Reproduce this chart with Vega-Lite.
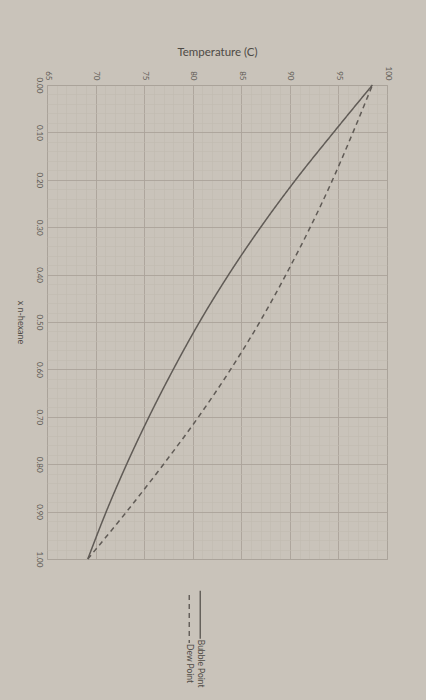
{
  "$schema": "https://vega.github.io/schema/vega-lite/v6.json",
  "width": 340,
  "height": 474,
  "autosize": {"type": "none"},
  "padding": {"left": 47, "top": 85, "right": 39, "bottom": 141},
  "background": "#c9c3ba",
  "config": {
    "font": "Lato",
    "view": {"stroke": "#aaa39a", "strokeWidth": 1},
    "axis": {"domain": false, "ticks": false, "labelFont": "Lato", "titleFont": "Lato", "labelColor": "#5e5a54", "titleColor": "#4e4a45", "labelFontSize": 8, "titleFontSize": 11.5, "titleFontWeight": "normal"}
  },
  "data": {"values": [
    {"x": 0.0, "T": 98.5, "series": "Bubble Point"},
    {"x": 0.1, "T": 94.5, "series": "Bubble Point"},
    {"x": 0.2, "T": 90.6, "series": "Bubble Point"},
    {"x": 0.3, "T": 87.0, "series": "Bubble Point"},
    {"x": 0.4, "T": 83.7, "series": "Bubble Point"},
    {"x": 0.5, "T": 80.7, "series": "Bubble Point"},
    {"x": 0.6, "T": 78.0, "series": "Bubble Point"},
    {"x": 0.7, "T": 75.5, "series": "Bubble Point"},
    {"x": 0.8, "T": 73.2, "series": "Bubble Point"},
    {"x": 0.9, "T": 71.1, "series": "Bubble Point"},
    {"x": 1.0, "T": 69.2, "series": "Bubble Point"},
    {"x": 0.0, "T": 98.5, "series": "Dew Point"},
    {"x": 0.1, "T": 96.5, "series": "Dew Point"},
    {"x": 0.2, "T": 94.4, "series": "Dew Point"},
    {"x": 0.3, "T": 92.1, "series": "Dew Point"},
    {"x": 0.4, "T": 89.6, "series": "Dew Point"},
    {"x": 0.5, "T": 86.9, "series": "Dew Point"},
    {"x": 0.6, "T": 83.9, "series": "Dew Point"},
    {"x": 0.7, "T": 80.6, "series": "Dew Point"},
    {"x": 0.8, "T": 77.0, "series": "Dew Point"},
    {"x": 0.9, "T": 73.2, "series": "Dew Point"},
    {"x": 1.0, "T": 69.2, "series": "Dew Point"}
  ]},
  "layer": [
    {
      "mark": {"type": "line", "opacity": 0},
      "encoding": {
        "x": {"field": "T", "type": "quantitative", "scale": {"domain": [65, 100], "nice": false, "zero": false},
          "axis": {"orient": "bottom", "title": null, "labels": false, "grid": true, "gridColor": "#c1bab0", "gridWidth": 0.6, "values": [66,67,68,69,71,72,73,74,76,77,78,79,81,82,83,84,86,87,88,89,91,92,93,94,96,97,98,99]}},
        "y": {"field": "x", "type": "quantitative", "scale": {"domain": [0, 1], "reverse": true, "nice": false, "zero": false},
          "axis": {"orient": "right", "title": null, "labels": false, "grid": true, "gridColor": "#c1bab0", "gridWidth": 0.6, "values": [0.02,0.04,0.06,0.08,0.12,0.14,0.16,0.18,0.22,0.24,0.26,0.28,0.32,0.34,0.36,0.38,0.42,0.44,0.46,0.48,0.52,0.54,0.56,0.58,0.62,0.64,0.66,0.68,0.72,0.74,0.76,0.78,0.82,0.84,0.86,0.88,0.92,0.94,0.96,0.98]}},
        "detail": {"field": "series"}
      }
    },
    {
      "mark": {"type": "line", "interpolate": "monotone", "color": "#605b56", "strokeWidth": 1.5},
      "encoding": {
        "x": {"field": "T", "type": "quantitative", "scale": {"domain": [65, 100], "nice": false, "zero": false},
          "axis": {"orient": "top", "title": "Temperature (C)", "values": [65,70,75,80,85,90,95,100], "grid": true, "gridColor": "#aaa39a", "gridWidth": 0.9, "labelAngle": 90, "labelAlign": "right", "labelBaseline": "middle", "labelPadding": 5, "titlePadding": 9}},
        "y": {"field": "x", "type": "quantitative", "scale": {"domain": [0, 1], "reverse": true, "nice": false, "zero": false},
          "axis": {"orient": "left", "title": "x n-hexane", "values": [0,0.1,0.2,0.3,0.4,0.5,0.6,0.7,0.8,0.9,1.0], "format": ".2f", "grid": true, "gridColor": "#aaa39a", "gridWidth": 0.9, "labelAngle": 90, "labelAlign": "center", "labelBaseline": "top", "labelPadding": 5, "titleAngle": 90, "titleBaseline": "top", "titlePadding": 10, "titleFontSize": 9}},
        "strokeDash": {"field": "series", "type": "nominal",
          "scale": {"domain": ["Dew Point", "Bubble Point"], "range": [[5, 4], [1, 0]]},
          "legend": {"orient": "none", "legendX": 138, "legendY": 525, "direction": "horizontal", "title": null,
            "symbolType": "M0,-12L0,12", "symbolSize": 16, "symbolStrokeWidth": 1.4, "symbolStrokeColor": "#605b56",
            "labelFontSize": 8.5, "labelFont": "Lato", "labelColor": "#4e4a45", "columnPadding": 2,
            "encode": {"labels": {"update": {"angle": {"value": 90}, "align": {"value": "left"}, "baseline": {"value": "middle"}, "dx": {"value": 25}, "dy": {"value": 8}}}}}
        }
      }
    }
  ],
  "resolve": {"scale": {"x": "independent", "y": "independent"}, "axis": {"x": "independent", "y": "independent"}}
}
